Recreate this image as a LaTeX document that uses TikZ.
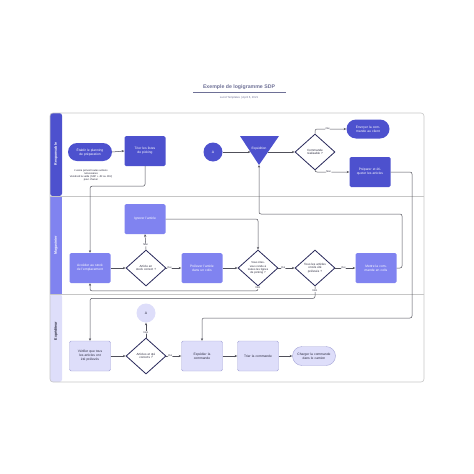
\documentclass[tikz,border=0pt]{standalone}
\usepackage{fontspec}
\setmainfont{Liberation Sans}
\usetikzlibrary{shapes.geometric,shapes.misc,arrows.meta}
\definecolor{dblue}{RGB}{77,81,206}
\definecolor{mblue}{RGB}{128,131,240}
\definecolor{lblue}{RGB}{222,222,250}
\definecolor{lborder}{RGB}{165,165,215}
\definecolor{navy}{RGB}{40,40,90}
\definecolor{txt}{RGB}{40,40,60}
\definecolor{ttl}{RGB}{110,112,150}
\definecolor{conn}{RGB}{80,80,90}
\tikzset{
 base/.style={rectangle, rounded corners=1.5pt, minimum width=41pt, minimum height=30pt, text width=34pt, align=center, inner sep=0pt, font=\fontsize{3.3}{4}\selectfont},
 dbox/.style={base, fill=dblue, text=white},
 mbox/.style={base, fill=mblue, text=white},
 lbox/.style={base, fill=lblue, draw=lborder, line width=0.4pt, text=txt},
 pillbox/.style={rounded rectangle, minimum width=43pt, minimum height=19pt, text width=34pt, align=center, inner sep=0pt, font=\fontsize{3.3}{4}\selectfont},
 dia/.style={diamond, draw=navy, line width=0.8pt, fill=white, minimum width=40pt, minimum height=36pt, inner sep=0pt, text width=23pt, align=center, font=\fontsize{3}{3.6}\selectfont, text=txt},
 circ/.style={circle, minimum size=19pt, inner sep=0pt, font=\fontsize{3.5}{4}\selectfont},
 arr/.style={draw=conn, line width=0.5pt, rounded corners=2pt, -{Stealth[length=2.6pt,width=2.2pt]}},
 lbl/.style={fill=white, inner sep=0.4pt, font=\fontsize{2.6}{3}\selectfont, text=txt},
 lanetxt/.style={rotate=90, font=\bfseries\fontsize{3.6}{4}\selectfont},
}
\begin{document}
\begin{tikzpicture}[x=1pt,y=-1pt]
\useasboundingbox (0,0) rectangle (474,474);
% title
\node[font=\bfseries\fontsize{5.2}{6}\selectfont, text=ttl] (title) at (239,87) {Exemple de logigramme SDP};
\draw[ttl, line width=0.4pt] (193,92.5) -- (286,92.5);
\node[font=\fontsize{2.8}{3.2}\selectfont, text=ttl] (sub) at (239,97.5) {Lucid Templates | April 6, 2021};
% frame and lanes
\fill[dblue, rounded corners=2.5pt] (50,196) -- (50,113) -- (62,113) -- (62,196) -- cycle;
\fill[mblue] (50,196) rectangle (62,294);
\fill[lblue, rounded corners=2.5pt] (50,294) -- (50,382) -- (62,382) -- (62,294) -- cycle;
\draw[gray!45, line width=0.6pt, rounded corners=3pt] (50,113) rectangle (424,382);
\draw[gray!45, line width=1pt] (50,196) -- (424,196);
\draw[gray!45, line width=1pt] (50,294) -- (424,294);
\node[lanetxt, text=white] (l1) at (56,154) {Responsable};
\node[lanetxt, text=white] (l2) at (56,245) {Magasinier};
\node[lanetxt, text=txt] (l3) at (56,331) {Expéditeur};
% lane 1
\node[pillbox, fill=dblue, text=white, minimum width=44pt, minimum height=18pt] (etab) at (90,152) {Établir le planning de préparation};
\node[font=\fontsize{2.6}{3.1}\selectfont, text=txt, align=center] (note) at (91,175) {L'usine prévoit toutes actions\\nécessaires\\Vendredi la veille (SDP + JR ou JDJ)\\pour chacun};
\node[dbox] (trierp) at (145,151) {Trier les listes de picking};
\node[circ, fill=dblue, text=white] (ca) at (213,152) {A};
\fill[dblue] (240,136) -- (279,136) -- (259,165) -- cycle;
\node[font=\fontsize{3.2}{4}\selectfont, text=white] (tri) at (259,149) {Expédition};
\coordinate (triW) at (250.5,152);
\coordinate (triE) at (267.5,152);
\coordinate (triS) at (259,165);
\node[dia] (cr) at (315,152) {Commande réalisable ?};
\node[pillbox, fill=dblue, text=white] (env) at (368,129) {Envoyer la commande au client};
\node[dbox] (prep) at (370,172) {Préparer et étiqueter les articles};
% lane 2
\node[mbox] (acc) at (90,268) {Accéder au stock de l'emplacement};
\node[dia] (art) at (146,268) {Article en stock correct ?};
\node[mbox] (ign) at (145,219) {Ignorer l'article};
\node[mbox] (prel) at (202,268) {Prélever l'article dans un colis};
\node[dia, text width=22pt, font=\fontsize{2.8}{3.3}\selectfont] (vous) at (258,268) {Vous êtes-vous rendu à toutes les lignes de picking ?};
\node[dia] (tous) at (315,268) {Tous les articles ont-ils été prélevés ?};
\node[mbox] (mettre) at (376,268) {Mettre la commande en colis};
% lane 3
\node[lbox] (ver) at (90,356) {Vérifier que tous les articles ont été prélevés};
\node[dia] (artc) at (146,356) {Articles et qté corrects ?};
\node[circ, fill=lblue, text=txt] (ca2) at (146,313) {A};
\node[lbox] (exp) at (202,356) {Expédier la commande};
\node[lbox] (trc) at (258,356) {Trier la commande};
\node[pillbox, fill=lblue, draw=lborder, line width=0.4pt, text=txt] (charg) at (314,356) {Charger la commande dans le camion};
% helper coordinates
\coordinate (r1) at (412,318);
\coordinate (m1) at (402,214);
% connectors lane 1
\draw[arr] (etab.east) -- (trierp.west);
\draw[arr] (trierp.south) -- ++(0,20) -| (acc.north);
\draw[arr] (ca.east) -- (triW);
\draw[arr] (triE) -- (cr.west);
\draw[arr] (cr.north) |- node[lbl, pos=0.7] {Oui} (env.west);
\draw[arr] (cr.south) |- node[lbl, pos=0.7] {Non} (prep.west);
\draw[arr] (prep.east) -| (r1) -| (exp.north);
% connectors lane 2
\draw[arr] (acc.east) -- (art.west);
\draw[arr] (art.north) -- node[lbl, pos=0.3] {Non} (ign.south);
\draw[arr] (art.east) -- node[lbl, pos=0.2] {Oui} (prel.west);
\draw[arr] (ign.east) -| (vous.north);
\draw[arr] (prel.east) -- (vous.west);
\draw[arr] (vous.east) -- node[lbl, pos=0.3] {Oui} (tous.west);
\draw[arr] (vous.south) -- node[lbl, pos=0.3] {Non} ++(0,4.5) -| (acc.south);
\draw[arr] (tous.east) -- node[lbl, pos=0.4] {Oui} (mettre.west);
\draw[arr] (mettre.east) -| (m1) -| (triS);
\draw[arr] (tous.south) -- node[lbl, pos=0.35] {Non} ++(0,12) -| (ver.north);
% connectors lane 3
\draw[arr] (ver.east) -- (artc.west);
\draw[arr] (artc.north) -- node[lbl, pos=0.35] {Non} (ca2.south);
\draw[arr] (artc.east) -- node[lbl, pos=0.25] {Oui} (exp.west);
\draw[arr] (exp.east) -- (trc.west);
\draw[arr] (trc.east) -- (charg.west);
\end{tikzpicture}
\end{document}
